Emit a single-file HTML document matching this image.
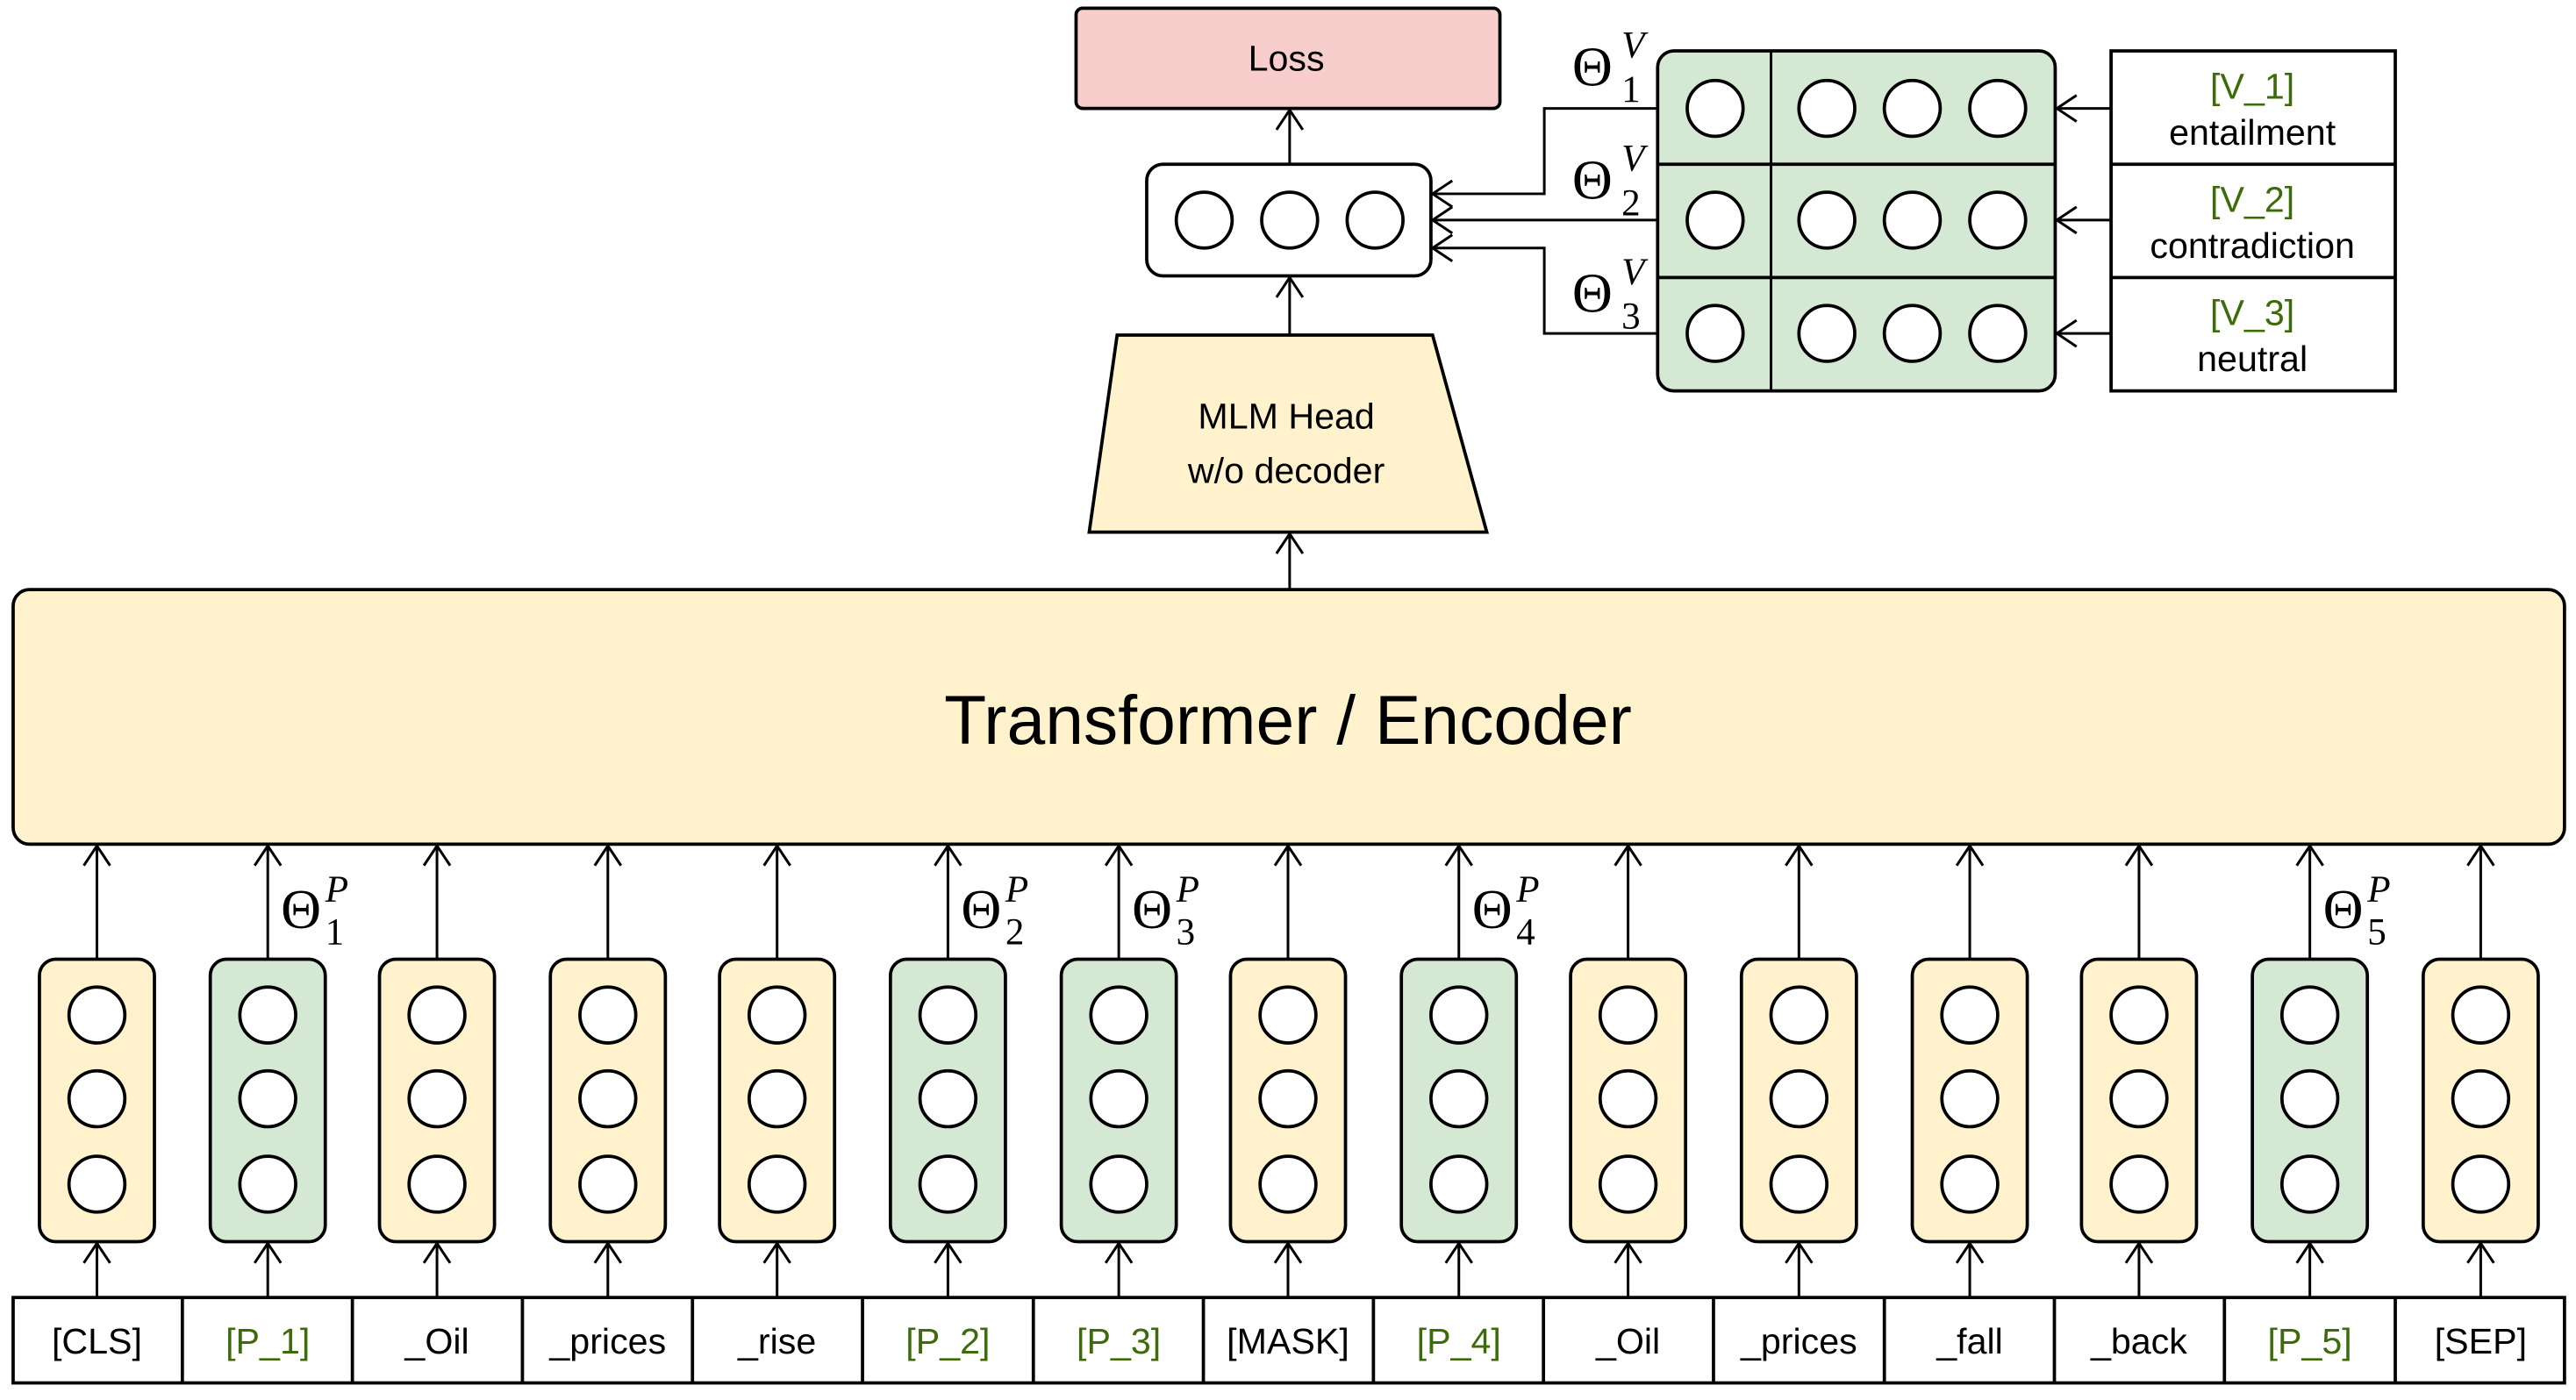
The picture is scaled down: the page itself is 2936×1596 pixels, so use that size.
<!DOCTYPE html>
<html><head><meta charset="utf-8"><style>
html,body{margin:0;padding:0;background:#fff;width:2936px;height:1596px;overflow:hidden}
svg{display:block}
text{font-family:"Liberation Sans",sans-serif;fill:#000}
.g{fill:#3d6b0a}
.m{font-family:"Liberation Serif",serif}
.i{font-family:"Liberation Serif",serif;font-style:italic}
</style></head><body>
<svg width="2936" height="1596" viewBox="0 0 1568 852.4" preserveAspectRatio="none" xmlns="http://www.w3.org/2000/svg">
<defs>
<marker id="a" markerWidth="14" markerHeight="18" refX="13" refY="9" orient="auto" markerUnits="userSpaceOnUse">
<path d="M1,1 L13,9 L1,17" fill="none" stroke="#000" stroke-width="1.6"/></marker>
<g id="yc" stroke="#000" stroke-width="2">
<rect x="-35" y="584" width="70" height="172" rx="10" fill="#fff2cc"/>
<circle cy="618" r="17" fill="#fff"/><circle cy="669" r="17" fill="#fff"/><circle cy="721" r="17" fill="#fff"/>
<line y1="790" y2="757" stroke-width="1.6" marker-end="url(#a)"/>
<line y1="584" y2="515" stroke-width="1.6" marker-end="url(#a)"/>
</g>
<g id="gc" stroke="#000" stroke-width="2">
<rect x="-35" y="584" width="70" height="172" rx="10" fill="#d5e8d4"/>
<circle cy="618" r="17" fill="#fff"/><circle cy="669" r="17" fill="#fff"/><circle cy="721" r="17" fill="#fff"/>
<line y1="790" y2="757" stroke-width="1.6" marker-end="url(#a)"/>
<line y1="584" y2="515" stroke-width="1.6" marker-end="url(#a)"/>
</g>
</defs>
<g stroke="#000" stroke-width="2" fill="none">
<rect x="655" y="5" width="258" height="61" rx="4" fill="#f8cecc"/>
<line x1="785" y1="100" x2="785" y2="67" marker-end="url(#a)" stroke-width="1.6"/>
<rect x="698" y="100" width="173" height="68" rx="10" fill="#fff"/>
<circle cx="733" cy="134" r="17" fill="#fff"/><circle cx="785" cy="134" r="17" fill="#fff"/><circle cx="837" cy="134" r="17" fill="#fff"/>
<line x1="785" y1="204" x2="785" y2="169" marker-end="url(#a)" stroke-width="1.6"/>
<polygon points="680,204 872,204 905,324 663,324" fill="#fff2cc"/>
<line x1="785" y1="359" x2="785" y2="325" marker-end="url(#a)" stroke-width="1.6"/>
<rect x="8" y="359" width="1553" height="155" rx="10" fill="#fff2cc"/>
<rect x="1009" y="31" width="242" height="207" rx="10" fill="#d5e8d4"/>
<line x1="1009" y1="100" x2="1251" y2="100"/><line x1="1009" y1="169" x2="1251" y2="169"/>
<line x1="1078" y1="31" x2="1078" y2="238" stroke-width="1.6"/>
<rect x="1285" y="31" width="173" height="207" fill="#fff"/>
<line x1="1285" y1="100" x2="1458" y2="100"/><line x1="1285" y1="169" x2="1458" y2="169"/>
<g stroke-width="1.6">
<line x1="1285" y1="66" x2="1252" y2="66" marker-end="url(#a)"/>
<line x1="1285" y1="134" x2="1252" y2="134" marker-end="url(#a)"/>
<line x1="1285" y1="203" x2="1252" y2="203" marker-end="url(#a)"/>
<polyline points="1009,66 940,66 940,118 872,118" marker-end="url(#a)"/>
<line x1="1009" y1="134" x2="872" y2="134" marker-end="url(#a)"/>
<polyline points="1009,203 940,203 940,151 872,151" marker-end="url(#a)"/>
</g>
<g fill="#fff">
<circle cx="1044" cy="66" r="17"/><circle cx="1112" cy="66" r="17"/><circle cx="1164" cy="66" r="17"/><circle cx="1216" cy="66" r="17"/>
<circle cx="1044" cy="134" r="17"/><circle cx="1112" cy="134" r="17"/><circle cx="1164" cy="134" r="17"/><circle cx="1216" cy="134" r="17"/>
<circle cx="1044" cy="203" r="17"/><circle cx="1112" cy="203" r="17"/><circle cx="1164" cy="203" r="17"/><circle cx="1216" cy="203" r="17"/>
</g>
<rect x="8" y="790" width="1553" height="52" fill="#fff"/>
<line x1="111" y1="790" x2="111" y2="842"/><line x1="214.5" y1="790" x2="214.5" y2="842"/>
<line x1="318" y1="790" x2="318" y2="842"/><line x1="421.5" y1="790" x2="421.5" y2="842"/>
<line x1="525" y1="790" x2="525" y2="842"/><line x1="629" y1="790" x2="629" y2="842"/>
<line x1="732.5" y1="790" x2="732.5" y2="842"/><line x1="836" y1="790" x2="836" y2="842"/>
<line x1="939.5" y1="790" x2="939.5" y2="842"/><line x1="1043" y1="790" x2="1043" y2="842"/>
<line x1="1147" y1="790" x2="1147" y2="842"/><line x1="1250.5" y1="790" x2="1250.5" y2="842"/>
<line x1="1354" y1="790" x2="1354" y2="842"/><line x1="1458" y1="790" x2="1458" y2="842"/>
</g>
<use href="#yc" x="59"/><use href="#gc" x="163"/><use href="#yc" x="266"/><use href="#yc" x="370"/><use href="#yc" x="473"/>
<use href="#gc" x="577"/><use href="#gc" x="681"/><use href="#yc" x="784"/><use href="#gc" x="888"/><use href="#yc" x="991"/>
<use href="#yc" x="1095"/><use href="#yc" x="1199"/><use href="#yc" x="1302"/><use href="#gc" x="1406"/><use href="#yc" x="1510"/>

<text x="783" y="43" font-size="22" text-anchor="middle">Loss</text>
<text x="783" y="261" font-size="22" text-anchor="middle">MLM Head</text>
<text x="783" y="294" font-size="22" text-anchor="middle">w/o decoder</text>
<text x="784" y="453" font-size="42" text-anchor="middle">Transformer / Encoder</text>
<g font-size="22" text-anchor="middle">
<text x="1371" y="60" class="g">[V_1]</text><text x="1371" y="88">entailment</text>
<text x="1371" y="129" class="g">[V_2]</text><text x="1371" y="157">contradiction</text>
<text x="1371" y="198" class="g">[V_3]</text><text x="1371" y="226">neutral</text>
</g>
<g font-size="34">
<text x="957" y="52" class="m">Θ</text><text x="987" y="35" font-size="23" class="i">V</text><text x="987" y="62" font-size="23" class="m">1</text>
<text x="957" y="121" class="m">Θ</text><text x="987" y="104" font-size="23" class="i">V</text><text x="987" y="131" font-size="23" class="m">2</text>
<text x="957" y="190" class="m">Θ</text><text x="987" y="173" font-size="23" class="i">V</text><text x="987" y="200" font-size="23" class="m">3</text>
</g>
<g font-size="34">
<text x="171" y="565" class="m">Θ</text><text x="198" y="549" font-size="23" class="i">P</text><text x="198" y="575" font-size="23" class="m">1</text>
<text x="585" y="565" class="m">Θ</text><text x="612" y="549" font-size="23" class="i">P</text><text x="612" y="575" font-size="23" class="m">2</text>
<text x="689" y="565" class="m">Θ</text><text x="716" y="549" font-size="23" class="i">P</text><text x="716" y="575" font-size="23" class="m">3</text>
<text x="896" y="565" class="m">Θ</text><text x="923" y="549" font-size="23" class="i">P</text><text x="923" y="575" font-size="23" class="m">4</text>
<text x="1414" y="565" class="m">Θ</text><text x="1441" y="549" font-size="23" class="i">P</text><text x="1441" y="575" font-size="23" class="m">5</text>
</g>
<g font-size="22" text-anchor="middle">
<text x="59" y="824">[CLS]</text><text x="163" y="824" class="g">[P_1]</text><text x="266" y="824">_Oil</text>
<text x="370" y="824">_prices</text><text x="473" y="824">_rise</text><text x="577" y="824" class="g">[P_2]</text>
<text x="681" y="824" class="g">[P_3]</text><text x="784" y="824">[MASK]</text><text x="888" y="824" class="g">[P_4]</text>
<text x="991" y="824">_Oil</text><text x="1095" y="824">_prices</text><text x="1199" y="824">_fall</text>
<text x="1302" y="824">_back</text><text x="1406" y="824" class="g">[P_5]</text><text x="1510" y="824">[SEP]</text>
</g>
</svg>
</body></html>
